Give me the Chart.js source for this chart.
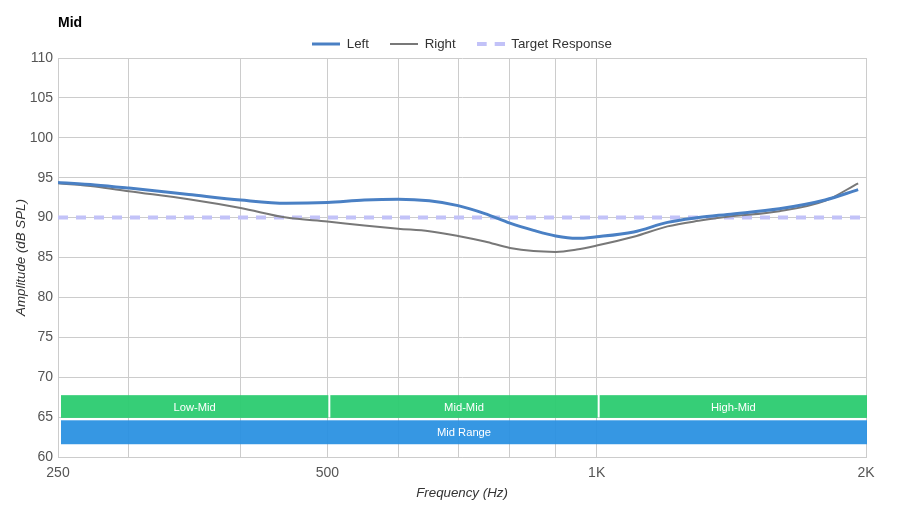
<!DOCTYPE html>
<html><head><meta charset="utf-8">
<script src="https://cdn.jsdelivr.net/npm/chart.js@4"></script>
<style>html,body{margin:0;padding:0;background:#fff}</style>
</head><body>
<canvas id="c" width="900" height="520"></canvas>
<script>
const freqs       = [250, 275, 300, 350, 400, 450, 500, 550, 600, 650, 700, 750, 800, 850, 900, 950, 1000, 1100, 1200, 1300, 1400, 1600, 1800, 1960];
const leftValues  = [94.4, 94.1, 93.7, 92.9, 92.2, 91.8, 91.9, 92.2, 92.3, 92.1, 91.5, 90.5, 89.3, 88.4, 87.7, 87.4, 87.6, 88.2, 89.4, 90.0, 90.4, 91.1, 92.2, 93.5];
const rightValues = [94.3, 93.9, 93.3, 92.3, 91.2, 90.0, 89.5, 89.0, 88.6, 88.3, 87.7, 87.0, 86.2, 85.8, 85.7, 86.0, 86.5, 87.6, 88.9, 89.6, 90.1, 90.8, 92.1, 94.3];
const targetFreqs = [250, 2000];
const targetValues = [90, 90];
const gridFreqs = [250, 300, 400, 500, 600, 700, 800, 900, 1000, 2000];
const tickLabels = {250: '250', 500: '500', 1000: '1K', 2000: '2K'};
const yTicks = [60, 65, 70, 75, 80, 85, 90, 95, 100, 105, 110];
const bandNames  = ['Low-Mid', 'Mid-Mid', 'High-Mid', 'Mid Range'];
const bandStarts = [250, 500, 1000, 250];
const bandEnds   = [500, 1000, 2000, 2000];
const bandRows   = [0, 0, 0, 1];

const FONT = "'Liberation Sans', Arial, sans-serif";
const toPts = (xs, ys) => xs.map((x, i) => ({x, y: ys[i]}));

function lineSample(color, width, dash) {
  const cv = document.createElement('canvas');
  cv.width = 28; cv.height = 6;
  const g = cv.getContext('2d');
  g.strokeStyle = color; g.lineWidth = width; g.setLineDash(dash);
  g.beginPath(); g.moveTo(0, 3); g.lineTo(28, 3); g.stroke();
  return cv;
}

const bandPlugin = {
  id: 'bands',
  beforeDatasetsDraw(chart) {
    const xs = chart.scales.x, ys = chart.scales.y, ctx = chart.ctx;
    const rows = [
      {top: 67.75, bottom: 64.9, color: 'rgba(46,204,113,0.96)'},
      {top: 64.6, bottom: 61.6, color: 'rgba(41,145,225,0.94)'}
    ];
    ctx.save();
    bandNames.forEach((name, i) => {
      const r = rows[bandRows[i]];
      const x0 = xs.getPixelForValue(bandStarts[i]) + 3;
      const x1 = xs.getPixelForValue(bandEnds[i]) + 1;
      const y0 = ys.getPixelForValue(r.top);
      const y1 = ys.getPixelForValue(r.bottom);
      ctx.fillStyle = r.color;
      ctx.fillRect(x0, y0, x1 - x0, y1 - y0);
      ctx.fillStyle = '#fff';
      ctx.font = '11.2px ' + FONT;
      ctx.textAlign = 'center';
      ctx.textBaseline = 'middle';
      ctx.fillText(name, (x0 + x1) / 2, (y0 + y1) / 2 + 1);
    });
    ctx.restore();
  }
};

new Chart(document.getElementById('c'), {
  type: 'line',
  data: {
    datasets: [
      {label: 'Left', data: toPts(freqs, leftValues), borderColor: '#4a80c4', backgroundColor: '#4a80c4', borderWidth: 3, pointRadius: 0, cubicInterpolationMode: 'monotone', fill: false},
      {label: 'Right', data: toPts(freqs, rightValues), borderColor: '#787878', backgroundColor: '#787878', borderWidth: 2, pointRadius: 0, cubicInterpolationMode: 'monotone', fill: false},
      {label: 'Target Response', data: toPts(targetFreqs, targetValues), borderColor: '#c2c2f8', backgroundColor: '#c2c2f8', borderWidth: 4, borderDash: [10, 8], pointRadius: 0, fill: false}
    ]
  },
  options: {
    responsive: false,
    animation: false,
    devicePixelRatio: 1,
    layout: {padding: {left: 0, right: 34, top: 0, bottom: 0}},
    plugins: {
      title: {display: true, text: 'Mid', align: 'start', fullSize: false, color: '#000',
        font: {family: FONT, size: 14, weight: 'bold'}, padding: {top: 15, bottom: -15.45}},
      legend: {display: true, fullSize: false, maxHeight: 41.65,
        labels: {usePointStyle: true, pointStyleWidth: 28, boxWidth: 28, boxHeight: 10,
          color: '#333', font: {family: FONT, size: 13.3}, padding: 21,
          generateLabels(chart) {
            const items = Chart.defaults.plugins.legend.labels.generateLabels(chart);
            items.forEach(it => {
              const ds = chart.data.datasets[it.datasetIndex];
              it.pointStyle = lineSample(ds.borderColor, ds.borderWidth, ds.borderDash || []);
            });
            return items;
          }}},
      tooltip: {enabled: false}
    },
    scales: {
      x: {
        type: 'logarithmic', min: 250, max: 2000,
        afterBuildTicks(s) { s.ticks = gridFreqs.map(v => ({value: v})); },
        afterFit(s) { s.height = 63; },
        ticks: {autoSkip: false, maxRotation: 0, padding: 8, color: '#555', font: {family: FONT, size: 14},
          callback: v => tickLabels[v] || ''},
        grid: {color: '#cccccc', drawTicks: false},
        border: {color: '#cccccc'},
        title: {display: true, text: 'Frequency (Hz)', color: '#333', font: {family: FONT, size: 13.3, style: 'italic'}, padding: {top: 0, bottom: 19}}
      },
      y: {
        min: 60, max: 110,
        afterBuildTicks(s) { s.ticks = yTicks.map(v => ({value: v})); },
        afterFit(s) { s.width = 58; },
        ticks: {padding: 5, color: '#555', font: {family: FONT, size: 14}},
        grid: {color: '#cccccc', drawTicks: false},
        border: {color: '#cccccc'},
        title: {display: true, text: 'Amplitude (dB SPL)', color: '#333', font: {family: FONT, size: 13.3, style: 'italic'}, padding: {top: 13, bottom: 0}}
      }
    }
  },
  plugins: [bandPlugin]
});
</script>
</body></html>
